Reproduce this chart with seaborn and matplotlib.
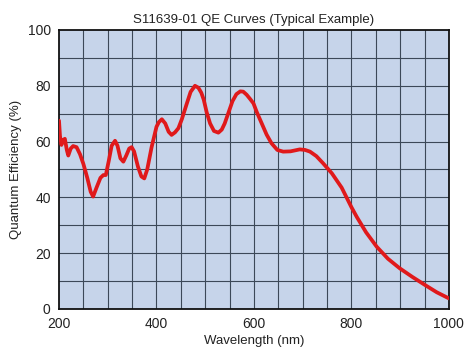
import pandas as pd
import matplotlib
matplotlib.use("Agg")
import matplotlib.pyplot as plt
import seaborn as sns

# ---------------------------
# Data
# ---------------------------
wavelength = [200, 202, 205, 208, 212, 216, 219, 224, 229, 236, 243, 250, 258, 265,
              270, 277, 285, 291, 296, 302, 308, 315, 320, 326, 332, 338, 344, 349,
              354, 362, 369, 375, 381, 390, 400, 405, 411, 418, 425, 431, 438, 445,
              452, 462, 470, 479, 486, 492, 497, 503, 510, 518, 527, 534, 540, 548,
              556, 564, 572, 578, 585, 592, 599, 606, 616, 626, 636, 648, 660, 675,
              694, 705, 715, 728, 742, 760, 780, 800, 811, 830, 852, 875, 899, 925,
              951, 975, 1000]
qe = [67.5, 62.0, 58.8, 60.5, 61.0, 57.0, 55.0, 57.5, 58.4, 58.0, 55.5, 52.0, 47.0, 42.0,
      40.3, 43.5, 47.0, 48.0, 48.0, 53.0, 58.5, 60.3, 58.5, 54.0, 52.8, 55.0, 57.5, 58.0,
      56.5, 51.0, 47.5, 46.8, 50.0, 58.0, 65.3, 67.0, 68.0, 66.5, 63.5, 62.4, 63.3, 64.8,
      68.0, 73.5, 77.8, 80.0, 79.3, 77.5, 75.0, 70.5, 66.5, 63.8, 63.2, 64.3, 66.5, 70.5,
      74.5, 77.0, 78.0, 77.9, 76.8, 75.3, 73.7, 70.5, 66.5, 62.5, 59.4, 57.0, 56.4, 56.5,
      57.2, 57.0, 56.4, 54.8, 52.2, 48.6, 43.5, 36.5, 33.0, 27.5, 22.3, 18.0, 14.6, 11.5,
      8.6, 6.0, 3.8]

x_ticks = [200, 400, 600, 800, 1000]
y_ticks = [0, 20, 40, 60, 80, 100]

df = pd.DataFrame({"wavelength": wavelength, "qe": qe})

sns.set_theme(style="white")
plt.rcParams['font.family'] = ['Liberation Sans', 'DejaVu Sans']

fig = plt.figure(figsize=(4.74, 3.57), dpi=100)
ax = fig.add_axes([0.1245, 0.1345, 0.8225, 0.7815])
ax.set_facecolor("#c6d4ea")

sns.lineplot(data=df, x="wavelength", y="qe", ax=ax, color="#e0191b",
             linewidth=2.7, zorder=3)

# grid every 50 nm / 10 %
for gx in range(250, 1000, 50):
    ax.axvline(gx, color="#3c4858", linewidth=0.8, zorder=1)
for gy in range(10, 100, 10):
    ax.axhline(gy, color="#3c4858", linewidth=0.8, zorder=1)

ax.set_xlim(200, 1000)
ax.set_ylim(0, 100)
ax.set_xticks(x_ticks)
ax.set_yticks(y_ticks)
ax.tick_params(axis="y", length=0, labelsize=10, colors="#222222", pad=6)
ax.tick_params(axis="x", length=0, labelsize=10, colors="#222222", pad=6)
for s in ax.spines.values():
    s.set_color("#111111")
    s.set_linewidth(1.3)

ax.set_xlabel("Wavelength (nm)", fontsize=9.5, color="#222222", labelpad=3)
ax.set_ylabel("Quantum Efficiency (%)", fontsize=9.5, color="#222222")
ax.set_title("S11639-01 QE Curves (Typical Example)", fontsize=9.5,
             color="#222222", pad=5)

fig.savefig("out.png", dpi=100)
